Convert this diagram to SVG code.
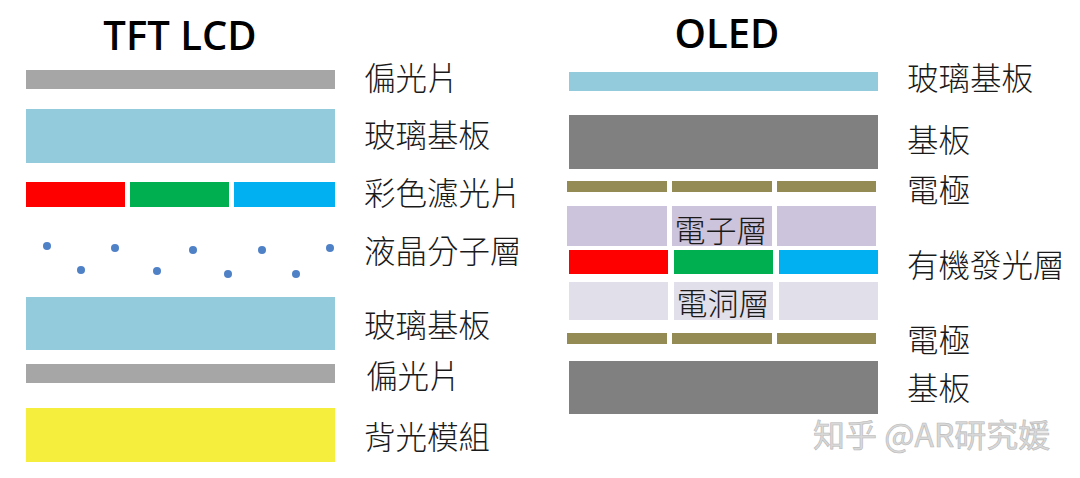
<svg xmlns="http://www.w3.org/2000/svg" width="1080" height="478" viewBox="0 0 1080 478">
<style>
.title{font-family:"Open Sans","Liberation Sans",sans-serif;font-size:40px;font-weight:600;fill:#000;text-anchor:middle}
.lbl{font-family:"Noto Sans CJK TC","Noto Sans CJK SC",sans-serif;font-size:31.5px;font-weight:300;fill:#1a1a1a}
.in{font-family:"Noto Sans CJK TC","Noto Sans CJK SC",sans-serif;font-size:31px;font-weight:300;fill:#1a1a1a;text-anchor:middle}
.pol{fill:#a6a6a6}
.glass{fill:#93cadc}
.r{fill:#fe0000}
.g{fill:#00b050}
.b{fill:#00b0f0}
.dot{fill:#4f81c7}
.yel{fill:#f6ee3c}
.sub{fill:#808080}
.el{fill:#948a54}
.ele{fill:#ccc3dc}
.hole{fill:#e0dfea}
.wm{font-family:"Noto Sans CJK SC",sans-serif;font-size:32px;fill:#d8d8d8;stroke:#b8b8b8;stroke-width:0.6}
</style>
<rect width="1080" height="478" fill="#ffffff"/>
<g id="lcd">
<text class="title" x="180" y="50">TFT LCD</text>
<g id="lcd-pol1"><rect class="pol" x="26" y="70" width="309" height="19"/><text class="lbl" x="364" y="90">偏光片</text></g>
<g id="lcd-glass1"><rect class="glass" x="26" y="109" width="309" height="54"/><text class="lbl" x="364" y="147">玻璃基板</text></g>
<g id="lcd-cf"><rect class="r" x="26" y="182" width="99" height="25"/><rect class="g" x="130" y="182" width="99" height="25"/><rect class="b" x="234" y="182" width="101" height="25"/><text class="lbl" x="364" y="205">彩色濾光片</text></g>
<g id="lcd-lc">
<circle class="dot" cx="47" cy="246" r="4"/><circle class="dot" cx="115" cy="248" r="4"/><circle class="dot" cx="193" cy="250" r="4"/><circle class="dot" cx="262" cy="250" r="4"/><circle class="dot" cx="330" cy="248" r="4"/>
<circle class="dot" cx="81" cy="270" r="4"/><circle class="dot" cx="157" cy="271" r="4"/><circle class="dot" cx="228" cy="274" r="4"/><circle class="dot" cx="296" cy="274" r="4"/>
<text class="lbl" x="364" y="263">液晶分子層</text></g>
<g id="lcd-glass2"><rect class="glass" x="26" y="297" width="309" height="53"/><text class="lbl" x="364" y="337">玻璃基板</text></g>
<g id="lcd-pol2"><rect class="pol" x="26" y="364" width="309" height="19"/><text class="lbl" x="366" y="388">偏光片</text></g>
<g id="lcd-bl"><rect class="yel" x="26" y="408" width="309" height="54"/><text class="lbl" x="364" y="449">背光模組</text></g>
</g>
<g id="oled">
<text class="title" x="727" y="48">OLED</text>
<g id="oled-glass"><rect class="glass" x="569" y="72" width="309" height="19"/><text class="lbl" x="907" y="90">玻璃基板</text></g>
<g id="oled-sub1"><rect class="sub" x="569" y="115" width="309" height="54"/><text class="lbl" x="907" y="152">基板</text></g>
<g id="oled-el1"><rect class="el" x="567" y="181" width="100" height="11"/><rect class="el" x="672" y="181" width="100" height="11"/><rect class="el" x="777" y="181" width="99" height="11"/><text class="lbl" x="907" y="202">電極</text></g>
<g id="oled-etl"><rect class="ele" x="567" y="206" width="100" height="40"/><rect class="ele" x="672" y="206" width="100" height="40"/><rect class="ele" x="777" y="206" width="99" height="40"/><text class="in" x="721" y="242">電子層</text></g>
<g id="oled-eml"><rect class="r" x="569" y="250" width="99" height="24"/><rect class="g" x="674" y="250" width="99" height="24"/><rect class="b" x="779" y="250" width="99" height="24"/><text class="lbl" x="907" y="277">有機發光層</text></g>
<g id="oled-htl"><rect class="hole" x="569" y="282" width="99" height="38"/><rect class="hole" x="674" y="282" width="99" height="38"/><rect class="hole" x="779" y="282" width="99" height="38"/><text class="in" x="723" y="315">電洞層</text></g>
<g id="oled-el2"><rect class="el" x="567" y="333" width="100" height="11"/><rect class="el" x="672" y="333" width="100" height="11"/><rect class="el" x="777" y="333" width="99" height="11"/><text class="lbl" x="907" y="352">電極</text></g>
<g id="oled-sub2"><rect class="sub" x="569" y="361" width="309" height="53"/><text class="lbl" x="907" y="400">基板</text></g>
</g>
<text class="wm" x="813" y="447">知乎 @AR研究媛</text>
</svg>
